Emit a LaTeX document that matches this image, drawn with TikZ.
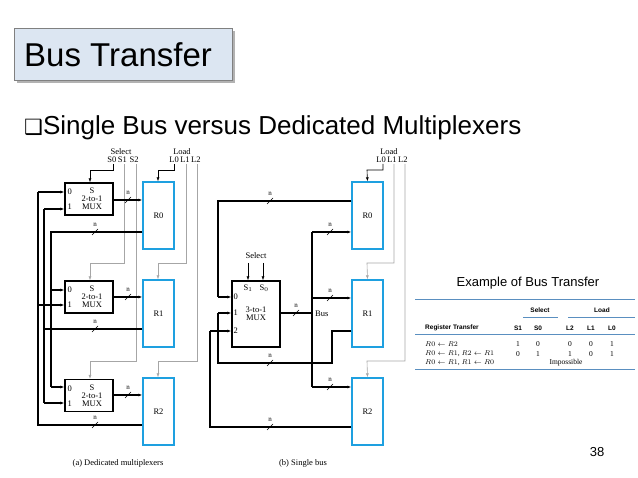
\documentclass[tikz,border=0pt]{standalone}
\usepackage{fontspec}
\setmainfont{Liberation Serif}
\newfontfamily\arial{Liberation Sans}
\newfontfamily\dejavu{DejaVu Sans}
\usetikzlibrary{calc,arrows.meta}
\definecolor{regc}{HTML}{1EA0E0}
\definecolor{titlef}{HTML}{DCE6F2}
\definecolor{rulec}{HTML}{5A8FC0}
\tikzset{
  x=1pt,y=-1pt,
  reg/.style={draw=regc,line width=1.3pt,minimum width=31pt,minimum height=67pt,inner sep=0,font=\fontsize{8.5}{9}\selectfont},
  muxb/.style={draw,line width=1.2pt,minimum width=48pt,minimum height=32pt,inner sep=0,align=center,font=\fontsize{8.5}{8}\selectfont},
  wire/.style={line width=1.1pt},
  arr/.style={-{Latex[length=4pt,width=3pt]}},
  sel/.style={line width=0.6pt},
  gsel/.style={line width=0.6pt,draw=gray!70},
  lbl/.style={font=\fontsize{8.5}{9}\selectfont,inner sep=0},
  tb/.style={font=\arial\bfseries\fontsize{6.5}{7}\selectfont,inner sep=0},
  tv/.style={font=\fontsize{7.5}{8}\selectfont,inner sep=0},
}
\newcommand\nmark[1]{\draw[line width=0.6pt] ($(#1)+(-3,3)$)--($(#1)+(3,-3)$); \node[lbl,font=\fontsize{7}{7}\selectfont] at ($(#1)+(0,-7)$) {n};}
\begin{document}
\begin{tikzpicture}
\useasboundingbox (0,0) rectangle (638,478);
% title
\fill[gray!60] (17,31) rectangle (235,83);
\node[draw=gray,fill=titlef,minimum width=218pt,minimum height=52pt,inner sep=0] (title) at (123,54) {};
\node[font=\arial\fontsize{33}{33}\selectfont,anchor=west,inner sep=0] (tt) at (24,55) {Bus Transfer};
\node[font=\arial\fontsize{26}{28}\selectfont,anchor=west,inner sep=0] (sub) at (24,128) {{\dejavu\fontsize{21}{21}\selectfont ❑}Single Bus versus Dedicated Multiplexers};
% ---------- left diagram
\node[lbl] (selL) at (121,152) {Select};
\node[lbl] (sL) at (123,160) {S0\,S1\,\,S2};
\node[lbl] (loadL) at (182,152) {Load};
\node[lbl] (lL) at (185,160) {L0\,L1\,L2};
\node[reg] (R0) at (158.5,215.5) {R0};
\node[reg] (R1) at (158.5,313.5) {R1};
\node[reg] (R2) at (158.5,411.5) {R2};
\foreach \i/\y in {0/199,1/297,2/395.5}{
  \node[muxb] (M\i) at (89,\y) {\hspace*{6pt}S\\\hspace*{6pt}2-to-1\\\hspace*{6pt}MUX};
  \node[lbl,anchor=west] at ($(M\i.west)+(3,-7)$) {0};
  \node[lbl,anchor=west] at ($(M\i.west)+(3,8)$) {1};
}
\draw[sel,arr] (113,164)--(113,170)--(90,170)--(M0.north -| 90,0);
\draw[gsel,arr] (124,164)--(124,263)--(90,263)--(M1.north -| 90,0);
\draw[gsel,arr] (136,164)--(136,361)--(90,361)--(M2.north -| 90,0);
\draw[sel,arr] (174,164)--(174,170)--(158,170)--(R0.north -| 158,0);
\draw[gsel,arr] (186,164)--(186,263)--(158,263)--(R1.north -| 158,0);
\draw[gsel,arr] (197,164)--(197,361)--(158,361)--(R2.north -| 158,0);
\foreach \i/\y in {0/200,1/297,2/395}{
  \draw[wire,arr] (M\i.east |- 0,\y) -- (R\i.west |- 0,\y);
  \nmark{128,\y}
}
\draw[wire] (R0.west |- 0,232)--(51,232)--(51,387);
\draw[wire,arr] (51,290)--(M1.west |- 0,290);
\draw[wire,arr] (51,387)--(M2.west |- 0,387);
\nmark{95,232}
\draw[wire] (R1.west |- 0,329)--(44,329);
\draw[wire] (44,209)--(44,403);
\draw[wire,arr] (44,209)--(M0.west |- 0,209);
\draw[wire,arr] (44,403)--(M2.west |- 0,403);
\nmark{95,329}
\draw[wire] (R2.west |- 0,425)--(38,425)--(38,192);
\draw[wire,arr] (38,192)--(M0.west |- 0,192);
\draw[wire,arr] (38,305)--(M1.west |- 0,305);
\nmark{95,425}
\node[lbl] (capa) at (118,463) {(a) Dedicated multiplexers};
% ---------- right diagram
\node[lbl] (loadR) at (389,152) {Load};
\node[lbl] (lR) at (392,160) {L0\,L1\,L2};
\node[reg] (Q0) at (367.5,215.5) {R0};
\node[reg] (Q1) at (367.5,313.5) {R1};
\node[reg] (Q2) at (367.5,411.5) {R2};
\draw[sel,arr] (383,164)--(383,170)--(367,170)--(Q0.north);
\draw[gsel,arr] (394,164)--(394,263)--(367,263)--(Q1.north);
\draw[gsel,arr] (405,164)--(405,361)--(367,361)--(Q2.north);
\node[muxb,minimum width=48pt,minimum height=66pt] (MX) at (256,314) {3-to-1\\MUX};
\node[lbl] (selR) at (256,256) {Select};
\draw[sel,arr] (248,263)--(MX.north -| 248,0);
\draw[sel,arr] (263,263)--(MX.north -| 263,0);
\node[lbl] at (248,288) {S$_1$};
\node[lbl] at (264,288) {S$_0$};
\node[lbl,anchor=west] at ($(MX.west |- 0,297)+(2,0)$) {0};
\node[lbl,anchor=west] at ($(MX.west |- 0,313)+(2,0)$) {1};
\node[lbl,anchor=west] at ($(MX.west |- 0,331)+(2,0)$) {2};
\coordinate (bus) at (312,313);
\draw[wire] (MX.east |- bus)--(bus);
\nmark{296,313}
\node[lbl,anchor=west] at ($(bus)+(3,1)$) {Bus};
\draw[wire] (312,232)--(312,387);
\foreach \i/\y in {0/232,1/298,2/387}{
  \draw[wire,arr] (312,\y)--(Q\i.west |- 0,\y);
  \nmark{330,\y}
}
\draw[wire] (Q0.west |- 0,201)--(218,201)--(218,297);
\draw[wire,arr] (218,297)--(MX.west |- 0,297);
\nmark{270,201}
\draw[wire] (Q1.west |- 0,331)--(332,331)--(332,363)--(218,363)--(218,313);
\draw[wire,arr] (218,313)--(MX.west |- 0,313);
\nmark{270,363}
\draw[wire] (Q2.west |- 0,427)--(210,427)--(210,331);
\draw[wire,arr] (210,331)--(MX.west |- 0,331);
\nmark{270,427}
\node[lbl] (capb) at (303,463) {(b) Single bus};
% ---------- table
\node[font=\arial\fontsize{13}{13}\selectfont] (ex) at (528,283) {Example of Bus Transfer};
\draw[rulec,line width=1pt] (415,300)--(635,300);
\draw[rulec,line width=0.6pt] (523,317)--(558,317);
\draw[rulec,line width=0.6pt] (568,317)--(635,317);
\draw[rulec,line width=0.6pt] (415,334)--(635,334);
\draw[rulec,line width=1pt] (415,370)--(635,370);
\node[tb] at (540,310) {Select};
\node[tb] at (602,310) {Load};
\node[tb,anchor=west] at (425,328) {Register Transfer};
\foreach \t/\x in {S1/518,S0/538,L2/570,L1/591,L0/612}{\node[tb] at (\x,328) {\t};}
\node[tv,anchor=west] at (425,344) {$R0 \leftarrow R2$};
\node[tv,anchor=west] at (425,354) {$R0 \leftarrow R1$, $R2 \leftarrow R1$};
\node[tv,anchor=west] at (425,363) {$R0 \leftarrow R1$, $R1 \leftarrow R0$};
\foreach \a/\b/\c/\d/\e/\y in {1/0/0/0/1/344,0/1/1/0/1/354}{
  \node[tv] at (518,\y) {\a}; \node[tv] at (538,\y) {\b};
  \node[tv] at (570,\y) {\c}; \node[tv] at (591,\y) {\d}; \node[tv] at (612,\y) {\e};
}
\node[tv] at (566,363) {Impossible};
\node[font=\arial\fontsize{13}{13}\selectfont] (pg) at (597,452) {38};
\end{tikzpicture}
\end{document}
